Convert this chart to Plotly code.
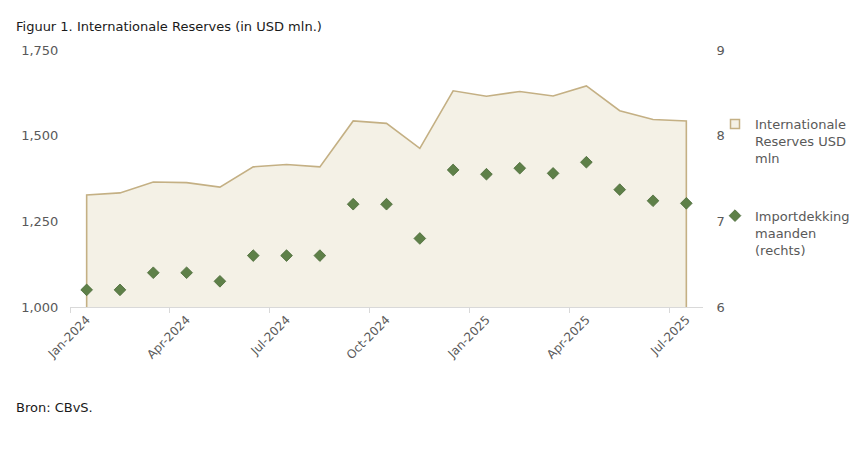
import plotly.graph_objects as go

months = ["Jan-2024", "Feb-2024", "Mar-2024", "Apr-2024", "May-2024", "Jun-2024",
          "Jul-2024", "Aug-2024", "Sep-2024", "Oct-2024", "Nov-2024", "Dec-2024",
          "Jan-2025", "Feb-2025", "Mar-2025", "Apr-2025", "May-2025", "Jun-2025", "Jul-2025"]
reserves = [1327, 1333, 1365, 1363, 1350, 1409, 1416, 1409, 1543, 1536, 1463, 1631,
            1615, 1629, 1616, 1645, 1573, 1547, 1543]
import_cover = [6.2, 6.2, 6.4, 6.4, 6.3, 6.6, 6.6, 6.6, 7.2, 7.2, 6.8, 7.6,
                7.55, 7.62, 7.56, 7.69, 7.37, 7.24, 7.21]
tick_labels = ["Jan-2024", "Apr-2024", "Jul-2024", "Oct-2024", "Jan-2025", "Apr-2025", "Jul-2025"]

Y_MIN, Y_MAX = 1000, 1750
Y2_MIN, Y2_MAX = 6, 9

idx = list(range(len(months)))
tick_idx = [months.index(m) for m in tick_labels]

FONT = "DejaVu Sans"
GRAY = "#595959"
FILL = "#F4F1E6"
LINE = "#C4B084"
GREEN = "#5E8048"

fig = go.Figure()
# area polygon: closed down to the axis minimum at both ends so the outline shows the vertical edges
fig.add_trace(go.Scatter(
    x=[idx[0]] + idx + [idx[-1]],
    y=[Y_MIN] + reserves + [Y_MIN],
    mode="lines", fill="tozeroy",
    fillcolor=FILL, line=dict(color=LINE, width=1.6),
    showlegend=False, hoverinfo="skip",
))
# legend entry for the area (square swatch like the original)
fig.add_trace(go.Scatter(
    x=[None], y=[None], mode="markers",
    marker=dict(symbol="square", size=9, color=FILL, line=dict(color=LINE, width=1.5)),
    name="Internationale<br>Reserves USD<br>mln", legendgroup="a",
))
fig.add_trace(go.Scatter(
    x=idx, y=import_cover, yaxis="y2", mode="markers",
    marker=dict(symbol="diamond", size=9, color=GREEN,
                line=dict(color="#4A6A38", width=0.8)),
    name="Importdekking<br>maanden<br>(rechts)", legendgroup="b",
))

fig.update_layout(
    width=863, height=450,
    margin=dict(l=70, r=160, t=50, b=143, autoexpand=False),
    paper_bgcolor="white", plot_bgcolor="white",
    font=dict(family=FONT, size=12, color=GRAY),
    showlegend=True,
    legend=dict(xref="container", yref="container", x=715 / 863, y=1 - 109 / 450,
                xanchor="left", yanchor="top",
                valign="top", tracegroupgap=38, itemwidth=30,
                font=dict(family=FONT, size=13, color=GRAY),
                bgcolor="rgba(0,0,0,0)"),
    xaxis=dict(range=[-0.5, len(months) - 0.5], tickmode="array",
               tickvals=tick_idx, ticktext=tick_labels, tickangle=-45,
               showgrid=False, zeroline=False, showline=True,
               linecolor="#D9D9D9", linewidth=1, ticks="",
               tickfont=dict(size=12, color=GRAY),
               minor=dict(tickmode="linear", tick0=-0.5, dtick=3, ticks="outside",
                          ticklen=5, tickcolor="#D9D9D9", showgrid=False)),
    yaxis=dict(range=[Y_MIN, Y_MAX], tickvals=[1000, 1250, 1500, 1750],
               tickformat=",", showgrid=False, zeroline=False, showline=False,
               tickfont=dict(size=13, color=GRAY), ticklen=8, ticks="outside",
               tickcolor="white"),
    yaxis2=dict(range=[Y2_MIN, Y2_MAX], overlaying="y", side="right",
                tickvals=[6, 7, 8, 9], showgrid=False, zeroline=False,
                showline=False, tickfont=dict(size=13, color=GRAY),
                ticks="outside", ticklen=10, tickcolor="white"),
    annotations=[
        dict(text="Figuur 1. Internationale Reserves (in USD mln.)", xref="paper", yref="paper",
             x=-0.088, y=1.09, xanchor="left", yanchor="middle", showarrow=False,
             font=dict(family=FONT, size=13, color="#1a1a1a")),
        dict(text="Bron: CBvS.", xref="paper", yref="paper",
             x=-0.088, y=-0.39, xanchor="left", yanchor="middle", showarrow=False,
             font=dict(family=FONT, size=13, color="#1a1a1a")),
    ],
)

fig.write_html("out.html")
